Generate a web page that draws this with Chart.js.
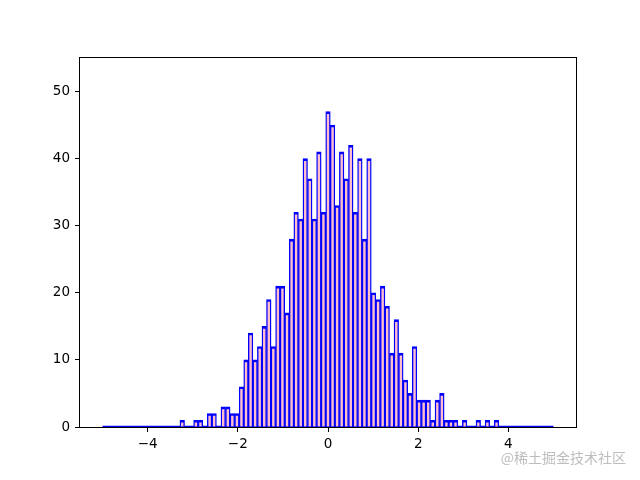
<!DOCTYPE html>
<html>
<head>
<meta charset="utf-8">
<script src="https://cdn.jsdelivr.net/npm/chart.js@4"></script>
<style>
  html, body { margin: 0; padding: 0; background: #fff; }
  #wrap { width: 640px; height: 480px; }
</style>
</head>
<body>
<div id="wrap"><canvas id="hist" width="640" height="480"></canvas></div>
<script>
  // histogram: 99 bins between binLo and binHi
  const binLo = -5;
  const binHi = 5;
  const counts = [
    0, 0, 0, 0, 0, 0, 0, 0, 0, 0,
    0, 0, 0, 0, 0, 0, 0, 1, 0, 0,
    1, 1, 0, 2, 2, 0, 3, 3, 2, 2,
    6, 10, 14, 10, 12, 15, 19, 12, 21, 21,
    17, 28, 32, 31, 40, 37, 31, 41, 32, 47,
    45, 33, 41, 37, 42, 32, 40, 28, 40, 20,
    19, 21, 18, 11, 16, 11, 7, 5, 12, 4,
    4, 4, 1, 4, 5, 1, 1, 1, 0, 1,
    0, 0, 1, 0, 1, 0, 1, 0, 0, 0,
    0, 0, 0, 0, 0, 0, 0, 0, 0
  ];
  const xTicks = [-4, -2, 0, 2, 4];
  const yTicks = [0, 10, 20, 30, 40, 50];
  const watermark = '@稀土掘金技术社区';

  const binWidth = (binHi - binLo) / counts.length;
  const barData = counts.map(function (c, i) {
    return { x: binLo + binWidth * (i + 0.5), y: c };
  });

  const tickFont = { family: "'DejaVu Sans', sans-serif", size: 13.5 };

  // matplotlib-like box around the axes + watermark
  const frame = {
    id: 'frame',
    afterDatasetsDraw: function (chart) {
      const a = chart.chartArea;
      const ctx = chart.ctx;
      ctx.save();
      ctx.strokeStyle = '#000';
      ctx.lineWidth = 1;
      ctx.strokeRect(Math.round(a.left) - 0.5, Math.round(a.top) - 0.5,
        Math.round(a.right - a.left) + 1, Math.round(a.bottom - a.top) + 1);
      ctx.restore();
    },
    afterDraw: function (chart) {
      const ctx = chart.ctx;
      ctx.save();
      ctx.font = "14px 'Noto Sans CJK SC', sans-serif";
      ctx.fillStyle = '#bdbdbd';
      ctx.textAlign = 'right';
      ctx.textBaseline = 'middle';
      ctx.fillText(watermark, 626, 458);
      ctx.restore();
    }
  };

  new Chart(document.getElementById('hist'), {
    data: {
      datasets: [{
        type: 'line',
        data: [{ x: binLo, y: 0 }, { x: binHi, y: 0 }],
        borderColor: '#0000ff',
        borderWidth: 2.5,
        pointRadius: 0,
        order: 2
      }, {
        type: 'bar',
        data: barData,
        backgroundColor: '#ffc0cb',
        borderColor: '#0000ff',
        borderWidth: { top: 2.6, left: 1.4, right: 1.4, bottom: 0 },
        borderSkipped: false,
        barPercentage: 1,
        categoryPercentage: 1,
        order: 1
      }]
    },
    options: {
      responsive: false,
      animation: false,
      devicePixelRatio: 1,
      layout: { padding: { left: 0, right: 64, top: 58, bottom: 0 } },
      plugins: { legend: { display: false }, tooltip: { enabled: false } },
      scales: {
        x: {
          type: 'linear',
          min: -5.5,
          max: 5.5,
          offset: false,
          afterBuildTicks: function (s) { s.ticks = xTicks.map(function (v) { return { value: v }; }); },
          afterFit: function (s) { s.height = 53; },
          border: { display: false },
          grid: { offset: false, drawOnChartArea: false, drawTicks: true, tickLength: 5, color: '#000' },
          ticks: {
            color: '#000', font: tickFont, padding: 4, maxRotation: 0,
            callback: function (v) { return String(v).replace('-', '\u2212'); }
          }
        },
        y: {
          min: 0,
          max: 55,
          afterBuildTicks: function (s) { s.ticks = yTicks.map(function (v) { return { value: v }; }); },
          afterFit: function (s) { s.width = 80; },
          border: { display: false },
          grid: { drawOnChartArea: false, drawTicks: true, tickLength: 5, color: '#000' },
          ticks: { color: '#000', font: tickFont, padding: 5 }
        }
      }
    },
    plugins: [frame]
  });
</script>
</body>
</html>
